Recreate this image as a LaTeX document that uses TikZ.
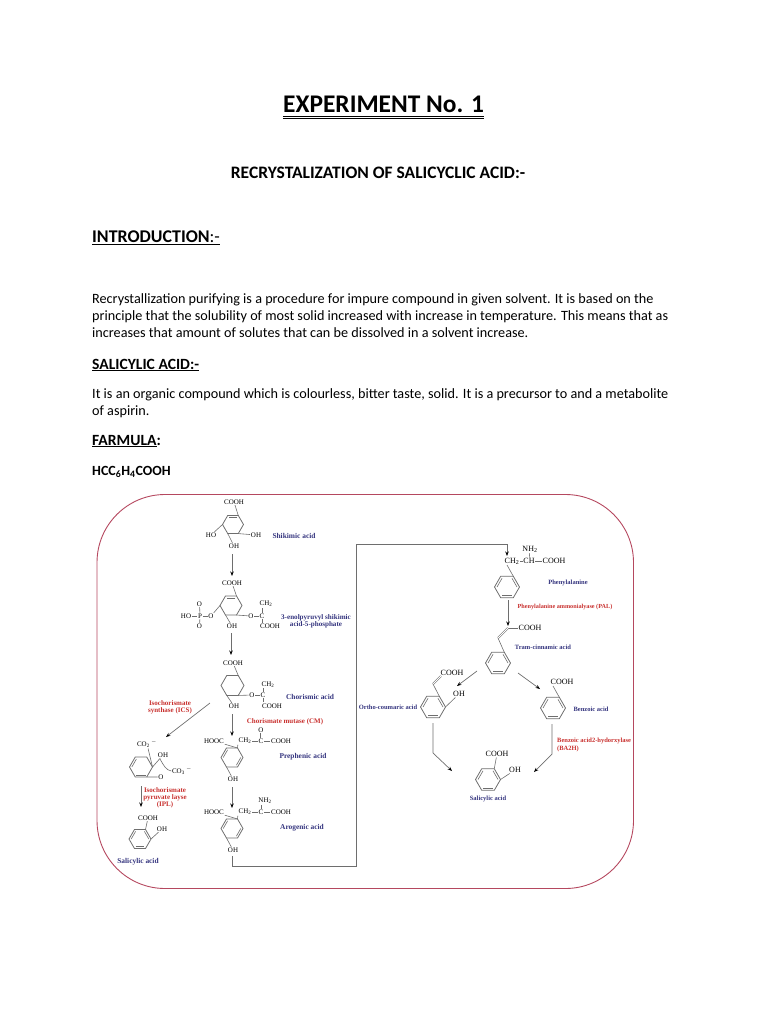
\documentclass[tikz,border=0pt]{standalone}
\usepackage{fontspec}
\setmainfont{Carlito}
\newfontfamily\chemfont{Liberation Serif}
\usetikzlibrary{arrows.meta,calc,shapes.geometric}
\definecolor{framered}{HTML}{B5485F}
\definecolor{labelblue}{HTML}{34347E}
\definecolor{labelred}{HTML}{C8302E}
\definecolor{bondgray}{HTML}{6E6E6E}
\tikzset{
  bodyline/.style={anchor=base west,inner sep=0pt,font=\fontsize{14.2}{16}\selectfont},
  headline/.style={anchor=base west,inner sep=0pt,font=\fontsize{15.6}{16}\selectfont\bfseries},
  atom/.style={inner sep=0.6pt,font=\chemfont\fontsize{7}{8}\selectfont},
  bigatom/.style={inner sep=0.6pt,font=\chemfont\fontsize{8}{9}\selectfont},
  bluelabel/.style={inner sep=0pt,text=labelblue,font=\chemfont\bfseries\fontsize{7.4}{8}\selectfont},
  smallblue/.style={inner sep=0pt,text=labelblue,font=\chemfont\bfseries\fontsize{6.5}{8}\selectfont},
  redlabel/.style={inner sep=0pt,text=labelred,font=\chemfont\bfseries\fontsize{7}{8}\selectfont},
  ringshape/.style={regular polygon,regular polygon sides=6,draw=bondgray,line width=0.8pt,inner sep=0pt,outer sep=0pt,minimum size=#1},
  ringshape/.default=22pt,
  bond/.style={draw=bondgray,line width=0.6pt},
  dblbond/.style={draw=bondgray,line width=0.4pt,double,double distance=1pt},
  flow/.style={draw=bondgray,line width=0.7pt,-{Stealth[length=4.5pt,width=3.5pt,color=black]}}
}
\newcommand{\ringdbl}[3]{\draw[bond] ($(#1.corner #2)!0.2!(#1.center)$) -- ($(#1.corner #3)!0.2!(#1.center)$);}
\begin{document}
\begin{tikzpicture}[x=1pt,y=-1pt]
  \useasboundingbox (0,0) rectangle (768,1024);

  \node[anchor=base,inner sep=0pt,font=\fontsize{25.4}{28}\selectfont\bfseries] (title) at (383.5,113) {EXPERIMENT No. 1};
  \draw[line width=0.9pt] ([yshift=-3.2pt]title.base west) -- ([yshift=-3.2pt]title.base east);
  \draw[line width=0.9pt] ([yshift=-5.8pt]title.base west) -- ([yshift=-5.8pt]title.base east);
  \node[anchor=base,inner sep=0pt,font=\fontsize{17.5}{18}\selectfont\bfseries] (subtitle) at (378,179) {RECRYSTALIZATION OF SALICYCLIC ACID:-};
  \node[anchor=base west,inner sep=0pt,font=\fontsize{17.9}{18}\selectfont] (intro) at (92,243) {\underline{\textbf{INTRODUCTION}:-}};
  \node[bodyline] (para1) at (92,303) {Recrystallization purifying is a procedure for impure compound in given solvent. It is based on the};
  \node[bodyline] (para2) at (92,320) {principle that the solubility of most solid increased with increase in temperature. This means that as};
  \node[bodyline] (para3) at (92,337) {increases that amount of solutes that can be dissolved in a solvent increase.};
  \node[headline] (salhead) at (92,369) {\underline{SALICYLIC ACID:-}};
  \node[bodyline] (para4) at (92,398) {It is an organic compound which is colourless, bitter taste, solid. It is a precursor to and a metabolite};
  \node[bodyline] (para5) at (92,415) {of aspirin.};
  \node[headline] (farmula) at (92,445) {\underline{FARMULA}:};
  \node[headline,font=\fontsize{14}{16}\selectfont\bfseries] (formula) at (92,475) {HCC\textsubscript{6}H\textsubscript{4}COOH};

  \draw[framered,line width=0.9pt,rounded corners=68pt] (97,494.5) rectangle (633.5,888.5);

  \node[ringshape=21pt] (shikimic) at (233,524.5) {};
  \ringdbl{shikimic}{1}{2}
  \node[atom] (coohA) at (234,502) {COOH};
  \node[atom] (hoA) at (211,535) {HO};
  \node[atom] (ohAr) at (256,535) {OH};
  \node[atom] (ohAb) at (234,546) {OH};
  \draw[bond] (coohA) -- (shikimic.corner 1);
  \draw[bond] (hoA) -- (shikimic.corner 3);
  \draw[bond] (ohAr) -- (shikimic.corner 5);
  \draw[bond] (ohAb) -- (shikimic.corner 4);
  \node[bluelabel] (shikimiclabel) at (294,536) {Shikimic acid};
  \coordinate (arrowAs) at (232,554);
  \coordinate (arrowAe) at (232,576);
  \draw[flow] (arrowAs) -- (arrowAe);

  \node[ringshape=22pt] (enol) at (231,605.5) {};
  \ringdbl{enol}{1}{2}
  \node[atom] (coohB) at (232,583) {COOH};
  \node[atom] (oBl) at (211,616) {O};
  \node[atom] (pB) at (200,616) {P};
  \node[atom] (hoB) at (186,616) {HO};
  \node[atom] (oBt) at (199.5,604) {O};
  \node[atom] (oBb) at (199.5,626) {O};
  \node[atom] (ohB) at (232,626) {OH};
  \node[atom] (oBr) at (251,616) {O};
  \node[atom] (cB) at (262,616) {C};
  \node[atom] (chB) at (266,604) {CH\textsubscript{2}};
  \node[atom] (coohBr) at (270,626) {COOH};
  \draw[bond] (coohB) -- (enol.corner 1);
  \draw[bond] (oBl) -- (enol.corner 3);
  \draw[bond] (oBr) -- (enol.corner 5);
  \draw[bond] (ohB) -- (enol.corner 4);
  \draw[bond] (hoB) -- (pB);
  \draw[bond] (pB) -- (oBl);
  \draw[bond] (pB) -- (oBt);
  \draw[bond] (pB) -- (oBb);
  \draw[bond] (oBr) -- (cB);
  \draw[bond] (cB) -- (262,608);
  \draw[bond] (cB) -- (262,623);
  \node[smallblue,align=center,font=\chemfont\bfseries\fontsize{7.1}{8}\selectfont] (enollabel) at (316,621) {3-enolpyruvyl shikimic\\[-0.6pt]acid-5-phosphate};
  \coordinate (arrowBs) at (231,633);
  \coordinate (arrowBe) at (231,655);
  \draw[flow] (arrowBs) -- (arrowBe);

  \node[ringshape=23pt] (chorismic) at (232.5,685.5) {};
  \node[atom] (coohC) at (233,663) {COOH};
  \node[atom] (ohC) at (234,706) {OH};
  \node[atom] (oC) at (252,695) {O};
  \node[atom] (cC) at (263,695) {C};
  \node[atom] (chC) at (268,685) {CH\textsubscript{2}};
  \node[atom] (coohCr) at (272,706) {COOH};
  \draw[bond] (coohC) -- (chorismic.corner 1);
  \draw[bond] (ohC) -- (chorismic.corner 4);
  \draw[bond] (oC) -- (chorismic.corner 5);
  \draw[bond] (oC) -- (cC);
  \draw[bond] (cC) -- (263,688);
  \draw[bond] (cC) -- (263,702);
  \node[bluelabel] (chorismiclabel) at (310,697) {Chorismic acid};

  \node[redlabel,align=center] (icslabel) at (170,707) {Isochorismate\\[-0.8pt]synthase (ICS)};
  \coordinate (arrowIs) at (210,703);
  \coordinate (arrowIe) at (166,737);
  \draw[flow] (arrowIs) -- (arrowIe);
  \coordinate (arrowCs) at (232,714);
  \coordinate (arrowCe) at (232,736);
  \draw[flow] (arrowCs) -- (arrowCe);
  \node[redlabel] (cmlabel) at (285,722) {Chorismate mutase (CM)};

  \node[ringshape=22pt] (prephenic) at (232,757.5) {};
  \ringdbl{prephenic}{2}{3}
  \ringdbl{prephenic}{5}{6}
  \node[atom] (hoocD) at (214,741) {HOOC};
  \node[atom] (chD) at (245,741) {CH\textsubscript{2}};
  \node[atom] (cD) at (261,741) {C};
  \node[atom] (oD) at (261,730) {O};
  \node[atom] (coohD) at (281,741) {COOH};
  \node[atom] (ohD) at (233,779) {OH};
  \draw[bond] (hoocD.south east) -- (prephenic.corner 1);
  \draw[bond] (chD.south west) -- (prephenic.corner 1);
  \draw[bond] (chD) -- (cD);
  \draw[bond] (cD) -- (coohD);
  \draw[bond,double,double distance=1pt,line width=0.3pt] (cD) -- (oD);
  \draw[bond] (ohD) -- (prephenic.corner 4);
  \node[bluelabel] (prepheniclabel) at (303,757) {Prephenic acid};
  \coordinate (arrowDs) at (232,787);
  \coordinate (arrowDe) at (232,808);
  \draw[flow] (arrowDs) -- (arrowDe);

  \node[ringshape=22pt] (arogenic) at (232,828.5) {};
  \ringdbl{arogenic}{2}{3}
  \ringdbl{arogenic}{5}{6}
  \node[atom] (hoocE) at (214,812) {HOOC};
  \node[atom] (chE) at (245,812) {CH\textsubscript{2}};
  \node[atom] (cE) at (261,812) {C};
  \node[atom] (nhE) at (265,801) {NH\textsubscript{2}};
  \node[atom] (coohE) at (281,812) {COOH};
  \node[atom] (ohE) at (233,850) {OH};
  \draw[bond] (hoocE.south east) -- (arogenic.corner 1);
  \draw[bond] (chE.south west) -- (arogenic.corner 1);
  \draw[bond] (chE) -- (cE);
  \draw[bond] (cE) -- (coohE);
  \draw[bond] (cE) -- (261,805);
  \draw[bond] (ohE) -- (arogenic.corner 4);
  \node[bluelabel] (arogeniclabel) at (302,828) {Arogenic acid};

  \node[ringshape=23pt] (isoring) at (141,767) {};
  \ringdbl{isoring}{2}{3}
  \ringdbl{isoring}{4}{5}
  \node[atom] (coA) at (147,744) {CO\textsubscript{2}$^{\,-}$};
  \node[atom] (ohI) at (163,755) {OH};
  \node[atom] (coB) at (182,771) {CO\textsubscript{3}$^{\,-}$};
  \node[atom] (oI) at (161,777) {O};
  \draw[bond] (coA) -- (isoring.corner 6);
  \draw[bond] (ohI) -- (isoring.corner 6);
  \draw[bond] (oI) -- (isoring.corner 5);
  \draw[bond] (160,759) .. controls (164,766) and (166,770) .. (coB.west);
  \coordinate (arrowIPs) at (141,786);
  \coordinate (arrowIPe) at (141,807);
  \draw[flow] (arrowIPs) -- (arrowIPe);
  \node[redlabel,align=center] (ipllabel) at (165,798) {Isochorismate\\[-0.8pt]pyruvate layse\\[-0.8pt](IPL)};
  \node[ringshape=22pt] (salicylicL) at (140,839) {};
  \ringdbl{salicylicL}{2}{3}
  \ringdbl{salicylicL}{4}{5}
  \ringdbl{salicylicL}{6}{1}
  \node[atom] (coohL) at (148,818) {COOH};
  \node[atom] (ohL) at (162,829) {OH};
  \draw[bond] (coohL) -- (salicylicL.corner 1);
  \draw[bond] (ohL) -- (salicylicL.corner 6);
  \node[bluelabel] (salicylicLlabel) at (138,862) {Salicylic acid};

  \coordinate (linkstart) at (232,856);
  \coordinate (linkcorner) at (232,866);
  \coordinate (linkright) at (356,866);
  \coordinate (linktop) at (356,544);
  \coordinate (linkover) at (507,544);
  \coordinate (linkend) at (507,556);
  \draw[flow] (linkstart) -- (linkcorner) -- (linkright) -- (linktop) -- (linkover) -- (linkend);

  \node[ringshape=25pt] (phenyl) at (507,587) {};
  \ringdbl{phenyl}{2}{3}
  \ringdbl{phenyl}{4}{5}
  \ringdbl{phenyl}{6}{1}
  \node[bigatom] (chF) at (512,561) {CH\textsubscript{2}};
  \node[bigatom] (chG) at (529,561) {CH};
  \node[bigatom] (nhF) at (530,549) {NH\textsubscript{2}};
  \node[bigatom] (coohF) at (554,561) {COOH};
  \draw[bond] (chF) -- (chG);
  \draw[bond] (chG) -- (coohF);
  \draw[bond] (chG) -- (nhF);
  \draw[bond] (507,565) -- (phenyl.corner 1);
  \node[smallblue] (phenyllabel) at (568,583) {Phenylalanine};
  \node[redlabel,font=\chemfont\bfseries\fontsize{6.2}{8}\selectfont] (pallabel) at (565,607) {Phenylalanine ammonialyase (PAL)};
  \coordinate (arrowFs) at (508,600);
  \coordinate (arrowFe) at (508,626);
  \draw[flow] (arrowFs) -- (arrowFe);

  \node[ringshape=25pt] (cinnamic) at (498,663) {};
  \ringdbl{cinnamic}{2}{3}
  \ringdbl{cinnamic}{4}{5}
  \ringdbl{cinnamic}{6}{1}
  \node[bigatom] (coohG) at (530,628) {COOH};
  \coordinate (vinylG) at (508,628);
  \coordinate (vinylH) at (498,638);
  \draw[bond] (coohG) -- (vinylG);
  \draw[dblbond] (vinylG) -- (vinylH);
  \draw[bond] (vinylH) -- (cinnamic.corner 1);
  \node[smallblue] (cinnamiclabel) at (543,647) {Tram-cinnamic acid};
  \coordinate (arrowGs) at (477,671);
  \coordinate (arrowGe) at (457,686);
  \draw[flow] (arrowGs) -- (arrowGe);
  \coordinate (arrowHs) at (518,673);
  \coordinate (arrowHe) at (540,689);
  \draw[flow] (arrowHs) -- (arrowHe);

  \node[ringshape=25pt] (coumaric) at (433,707) {};
  \ringdbl{coumaric}{2}{3}
  \ringdbl{coumaric}{4}{5}
  \ringdbl{coumaric}{6}{1}
  \node[bigatom] (coohH) at (452,673) {COOH};
  \node[bigatom] (ohH) at (459,694) {OH};
  \coordinate (vinylI) at (441,676);
  \coordinate (vinylJ) at (433,684);
  \draw[dblbond] (vinylI) -- (vinylJ);
  \draw[bond] (vinylJ) -- (coumaric.corner 1);
  \draw[bond] (ohH) -- (coumaric.corner 6);
  \node[smallblue] (coumariclabel) at (388,707) {Ortho-coumaric acid};
  \coordinate (arrowJs) at (433,723);
  \coordinate (arrowJm) at (433,753);
  \coordinate (arrowJe) at (452,771);
  \draw[flow] (arrowJs) -- (arrowJm) -- (arrowJe);

  \node[ringshape=25pt] (benzoic) at (553,708) {};
  \ringdbl{benzoic}{2}{3}
  \ringdbl{benzoic}{4}{5}
  \ringdbl{benzoic}{6}{1}
  \node[bigatom] (coohJ) at (562,682) {COOH};
  \draw[bond] (553,686) -- (benzoic.corner 1);
  \node[smallblue] (benzoiclabel) at (591,709) {Benzoic acid};
  \coordinate (arrowKs) at (552,724);
  \coordinate (arrowKm) at (552,754);
  \coordinate (arrowKe) at (534,772);
  \draw[flow] (arrowKs) -- (arrowKm) -- (arrowKe);
  \node[redlabel,anchor=base west,font=\chemfont\bfseries\fontsize{6.5}{8}\selectfont] (ba2hA) at (557,742) {Benzoic acid2-hydorxylase};
  \node[redlabel,anchor=base west,font=\chemfont\bfseries\fontsize{6.5}{8}\selectfont] (ba2hB) at (557,750) {(BA2H)};

  \node[ringshape=25pt] (salicylicR) at (488,779.5) {};
  \ringdbl{salicylicR}{2}{3}
  \ringdbl{salicylicR}{4}{5}
  \ringdbl{salicylicR}{6}{1}
  \node[bigatom] (coohK) at (497,754) {COOH};
  \node[bigatom] (ohK) at (515,770) {OH};
  \draw[bond] (coohK) -- (salicylicR.corner 1);
  \draw[bond] (ohK) -- (salicylicR.corner 6);
  \node[smallblue] (salicylicRlabel) at (488,799) {Salicylic acid};
\end{tikzpicture}
\end{document}
